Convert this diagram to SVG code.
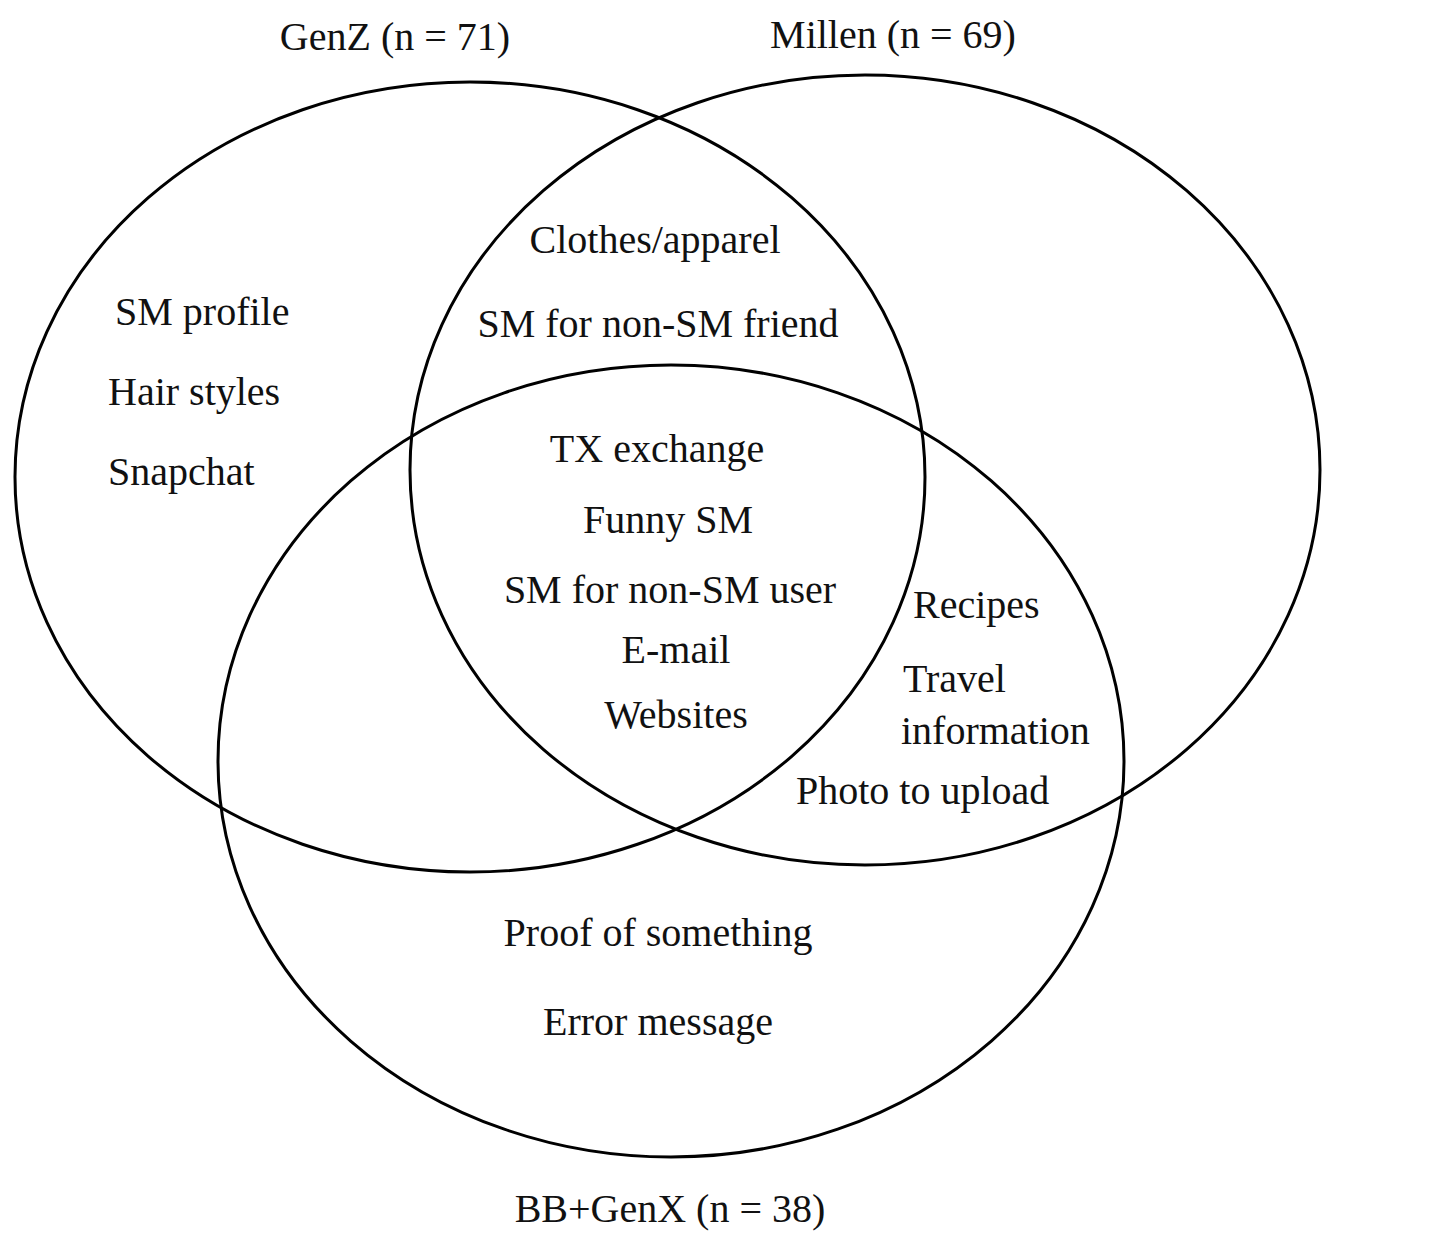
<svg xmlns="http://www.w3.org/2000/svg" width="1435" height="1259" viewBox="0 0 1435 1259">
<style>
.c{fill:none;stroke:#000;stroke-width:3}
text{font-family:"Liberation Serif",serif;font-size:40px;fill:#111}
.m{text-anchor:middle}
</style>
<rect width="1435" height="1259" fill="#fff"/>
<g id="genz"><ellipse class="c" cx="470" cy="477" rx="455" ry="395"/>
<text x="395" y="50" class="m">GenZ (n = 71)</text></g>
<g id="millen"><ellipse class="c" cx="865" cy="470" rx="455" ry="395"/>
<text x="893" y="48" class="m">Millen (n = 69)</text></g>
<g id="bbgenx"><ellipse class="c" cx="671" cy="761" rx="453" ry="396"/>
<text x="670" y="1222" class="m">BB+GenX (n = 38)</text></g>
<g id="labels">
<text x="115" y="325">SM profile</text>
<text x="108" y="405">Hair styles</text>
<text x="108" y="485">Snapchat</text>
<text x="655" y="253" class="m">Clothes/apparel</text>
<text x="658" y="337" class="m">SM for non-SM  friend</text>
<text x="657" y="462" class="m">TX exchange</text>
<text x="668" y="533" class="m">Funny SM</text>
<text x="670" y="603" class="m">SM for non-SM  user</text>
<text x="676" y="663" class="m">E-mail</text>
<text x="676" y="728" class="m">Websites</text>
<text x="913" y="618">Recipes</text>
<text x="903" y="692">Travel</text>
<text x="901" y="744">information</text>
<text x="796" y="804">Photo to upload</text>
<text x="658" y="946" class="m">Proof of something</text>
<text x="658" y="1035" class="m">Error message</text>
</g>
</svg>
